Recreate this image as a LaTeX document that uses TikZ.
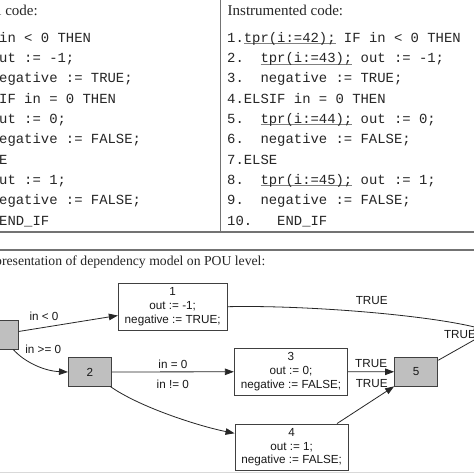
\documentclass[tikz,border=0pt]{standalone}
\usepackage{fontspec}
\setmainfont{Liberation Serif}
\setsansfont{Liberation Sans}
\setmonofont{Liberation Mono}
\usepackage{tikz}
\usetikzlibrary{arrows.meta, calc}

\newsavebox\tprbox
\newcommand\tprline[1]{\sbox\tprbox{#1}\rlap{\textcolor{black!50}{\rule[-1.8pt]{\wd\tprbox}{0.9pt}}}\usebox\tprbox}

\begin{document}
\begin{tikzpicture}[
  x=1pt, y=1pt,
  title/.style={font=\fontsize{15}{17}\selectfont, inner sep=0pt, text=black!85},
  code/.style={anchor=base west, font=\ttfamily\fontsize{13.9}{16}\selectfont, inner sep=0pt, text=black!85},
  tbl/.style={draw=black!55, line width=1.2pt},
  blk/.style={draw=black!75, line width=0.8pt, fill=white, align=center, inner xsep=6.5pt, minimum height=46.7pt, font=\sffamily\fontsize{11.7}{13.8}\selectfont, text=black!90},
  gblk/.style={draw=black!75, line width=0.8pt, fill=gray!50, minimum width=43.3pt, minimum height=28.3pt, font=\sffamily\fontsize{11.7}{13.8}\selectfont, text=black!90},
  lbl/.style={font=\sffamily\fontsize{11.7}{13.8}\selectfont, inner sep=0pt, text=black!90},
  arr/.style={-{Triangle[length=9pt, width=6.5pt]}, line width=0.8pt, black!85}
]
\useasboundingbox (0,0) rectangle (474,-474);
\clip (0,0) rectangle (474,-474);
\fill[white] (0,0) rectangle (474,-474);

% code table
\draw[tbl] (220.7,0) -- (220.7,-232);
\draw[tbl] (0,-232) -- (474,-232);
\draw[tbl] (0,-250) -- (474,-250);
\draw[black!15, line width=1pt] (0,-472.8) -- (474,-472.8);

\node[title, anchor=base east] (orig) at (38,-15) {Original code:};
\node[title, anchor=base west] (instr) at (227.5,-15) {Instrumented code:};

\node[code] (o1)  at (-26,-42.3)  {IF in < 0 THEN};
\node[code] (o2)  at (-26,-62.6)  {\ \ out := -1;};
\node[code] (o3)  at (-26,-82.9)  {\ \ negative := TRUE;};
\node[code] (o4)  at (-26,-103.2) {ELSIF in = 0 THEN};
\node[code] (o5)  at (-26,-123.5) {\ \ out := 0;};
\node[code] (o6)  at (-26,-143.8) {\ \ negative := FALSE;};
\node[code] (o7)  at (-26,-164.1) {ELSE};
\node[code] (o8)  at (-26,-184.4) {\ \ out := 1;};
\node[code] (o9)  at (-26,-204.7) {\ \ negative := FALSE;};
\node[code] (o10) at (-26,-225)   {\ \ \ END\_IF};

\node[code] (c1)  at (227,-42.3)  {1.\tprline{tpr(i:=42);} IF in < 0 THEN};
\node[code] (c2)  at (227,-62.6)  {2.\ \ \tprline{tpr(i:=43);} out := -1;};
\node[code] (c3)  at (227,-82.9)  {3.\ \ negative := TRUE;};
\node[code] (c4)  at (227,-103.2) {4.ELSIF in = 0 THEN};
\node[code] (c5)  at (227,-123.5) {5.\ \ \tprline{tpr(i:=44);} out := 0;};
\node[code] (c6)  at (227,-143.8) {6.\ \ negative := FALSE;};
\node[code] (c7)  at (227,-164.1) {7.ELSE};
\node[code] (c8)  at (227,-184.4) {8.\ \ \tprline{tpr(i:=45);} out := 1;};
\node[code] (c9)  at (227,-204.7) {9.\ \ negative := FALSE;};
\node[code] (c10) at (227,-225)   {10.\ \ \ END\_IF};

% dependency model
\node[title, anchor=base east, font=\fontsize{13.7}{15}\selectfont] (dep) at (265.5,-265) {Representation of dependency model on POU level:};

\node[gblk] (blk0) at (-3.3,-335) {};
\node[blk]  (blk1) at (172.7,-306.7) {1\\out := -1;\\negative := TRUE;};
\node[gblk] (blk2) at (90,-372) {2};
\node[blk]  (blk3) at (291,-371.7) {3\\out := 0;\\negative := FALSE;};
\node[blk]  (blk4) at (291.7,-447.3) {4\\out := 1;\\negative := FALSE;};
\node[gblk] (blk5) at (416.2,-371.8) {5};
\node[gblk] (blk6) at (505,-333) {};

\draw[arr] (blk0) -- node[lbl, pos=0.255, yshift=11pt] (l01) {in < 0} (blk1);
\draw[arr] ([xshift=16.6pt]blk0.south) .. controls +(11.7,-13) and ($(blk2.west)+(-23.3,1)$) .. node[lbl, pos=0.5, xshift=7pt, yshift=16pt] (l02) {in >= 0} (blk2.west);
\draw[arr] (blk2) -- node[lbl, pos=0.5, yshift=8pt] (l23) {in = 0} (blk3);
\draw[arr] ([xshift=-1.7pt]blk2.south east) .. controls +(30,-21) and ($(blk4.west)+(-35,21)$) .. node[lbl, pos=0.5, xshift=2.2pt, yshift=30.9pt] (l24) {in != 0} ([yshift=14pt]blk4.west);
\draw[arr] (blk3) -- node[lbl, pos=0.5, yshift=8.5pt] (l35) {TRUE} (blk5);
\draw[arr] ([xshift=45.3pt]blk4.north) -- node[lbl, pos=0.607, yshift=17pt] (l45) {TRUE} (blk5.south west);
\draw[arr] (blk1.east) .. controls +(72.3,1.7) and ($(blk6.west)+(-63,19)$) .. node[lbl, pos=0.5, xshift=13pt, yshift=10.6pt] (l16) {TRUE} ([yshift=4pt]blk6.west);
\draw[arr] ([yshift=-3pt]blk5.north east) -- node[lbl, pos=0.487, yshift=13.9pt] (l56) {TRUE} ([yshift=-2pt]blk6.west);
\end{tikzpicture}
\end{document}
